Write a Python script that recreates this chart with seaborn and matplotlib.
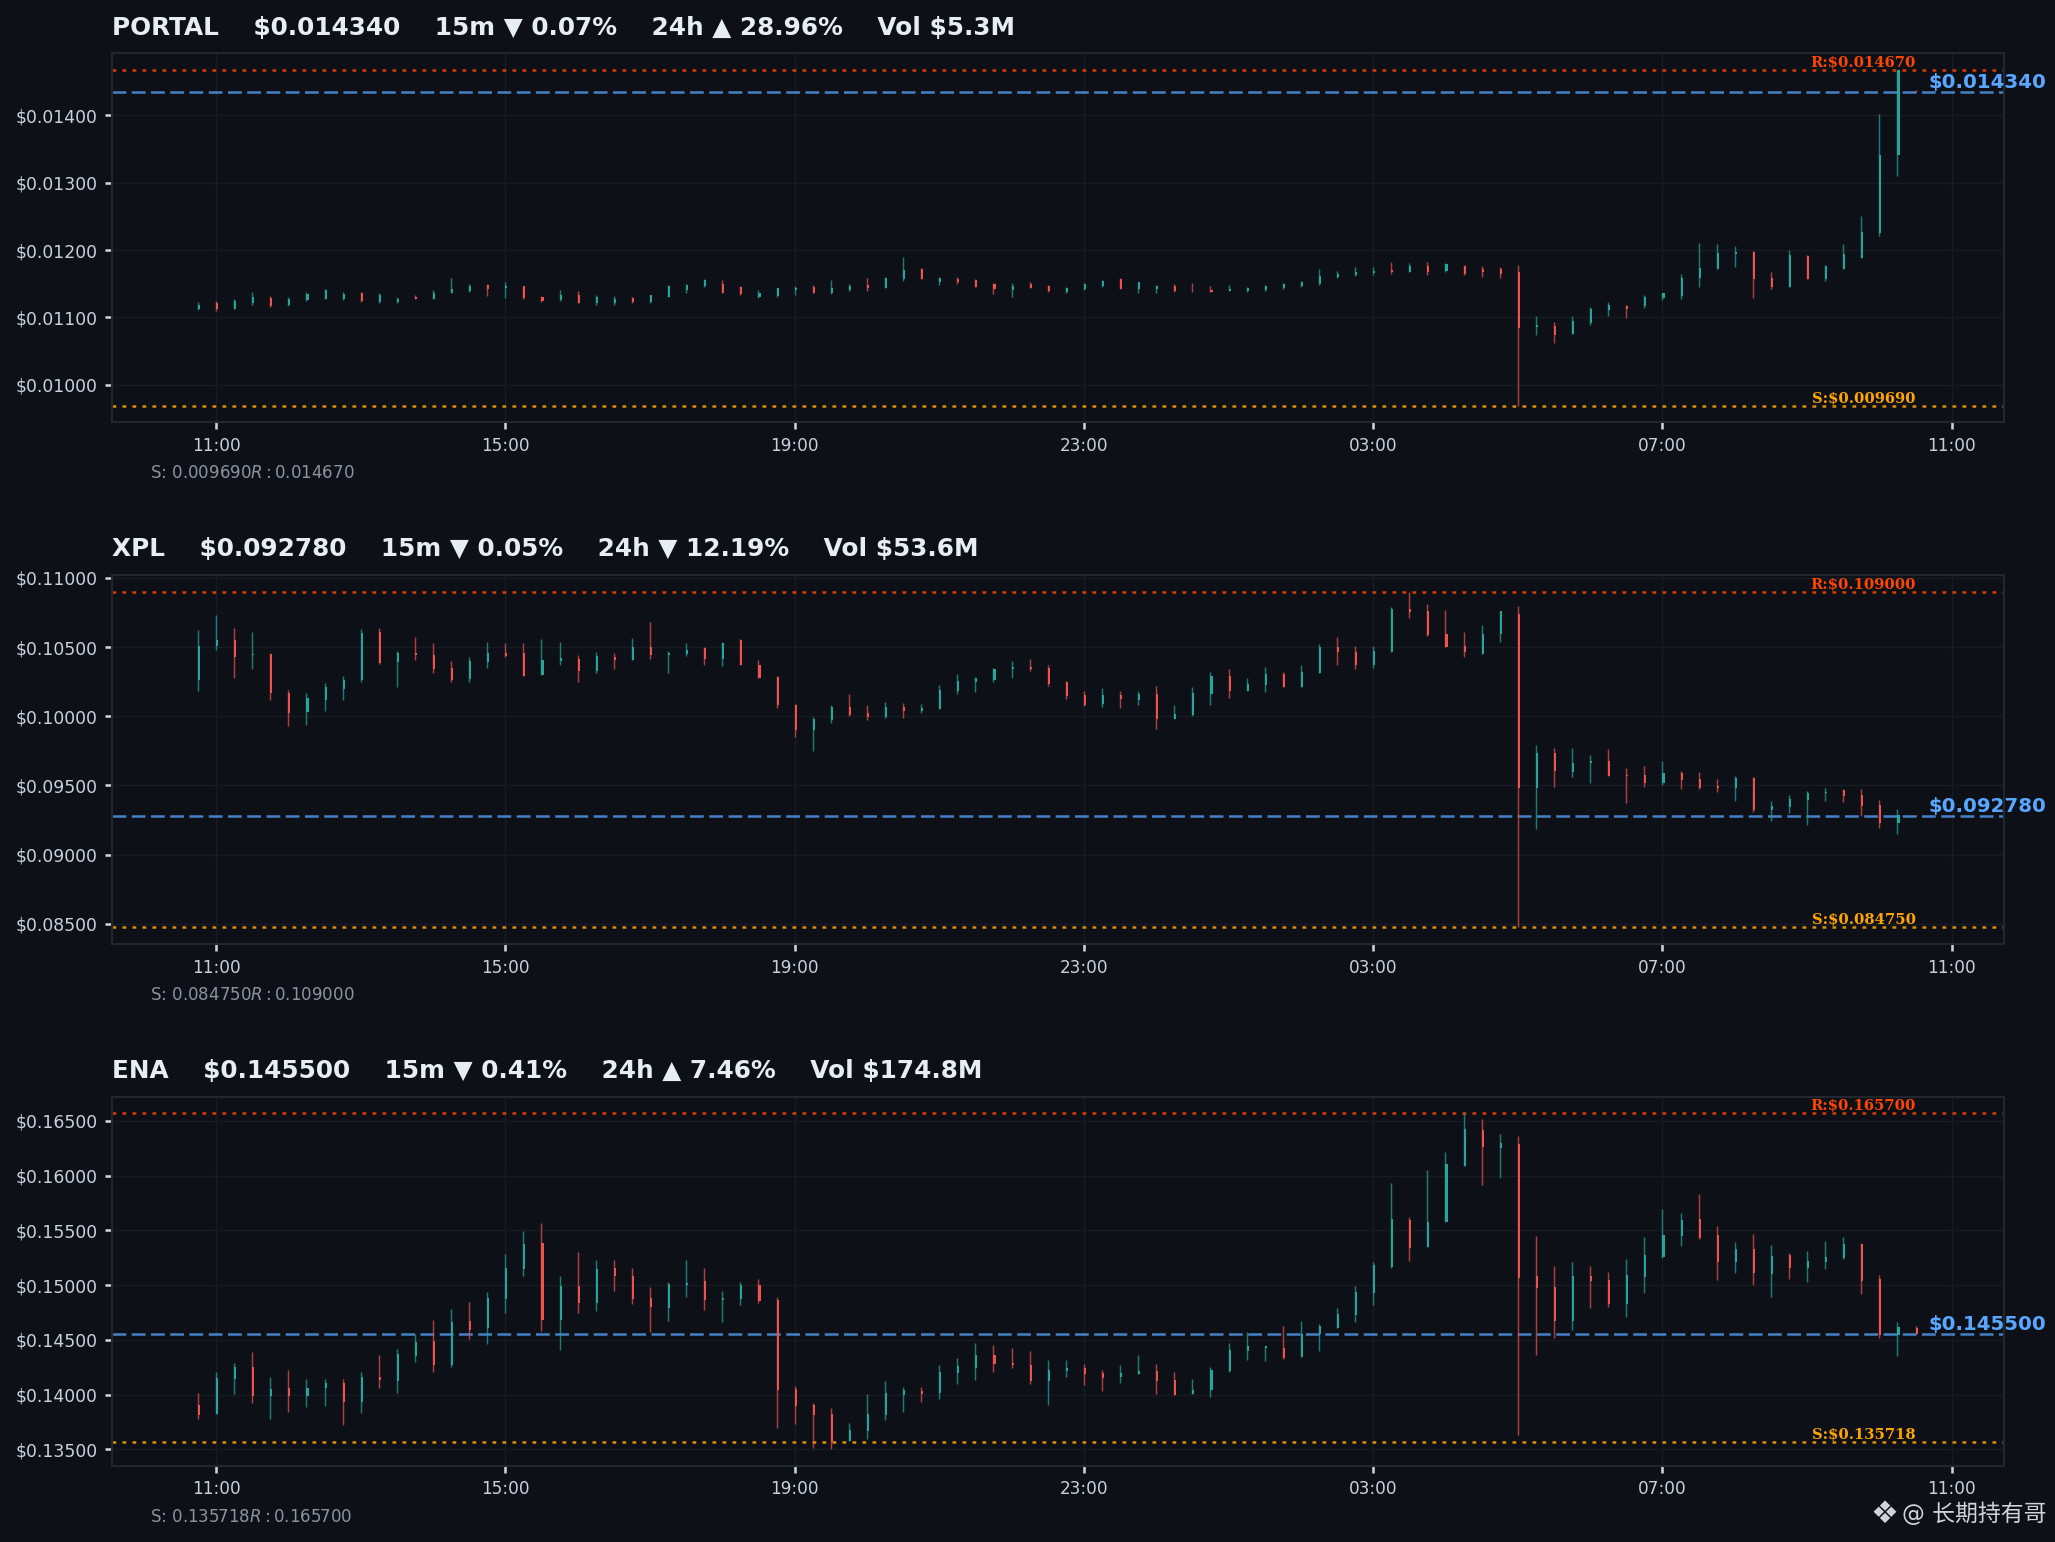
import matplotlib
matplotlib.use("Agg")
import matplotlib.pyplot as plt
import matplotlib.dates as mdates
from matplotlib.ticker import FuncFormatter
import numpy as np
import pandas as pd
import seaborn as sns

# =========================
# data: 15m candles, 96 bars
# =========================
times = pd.date_range("2025-01-14 10:45", periods=96, freq="15min")

portal_open = [
    0.01112, 0.01121, 0.01113, 0.01121, 0.01129, 0.01118, 0.01126, 0.01128, 0.01127, 0.01136,
    0.01123, 0.01123, 0.01131, 0.01128, 0.01137, 0.01139, 0.01148, 0.01143, 0.01146, 0.01131,
    0.01126, 0.01133, 0.01121, 0.01122, 0.01129, 0.01123, 0.01131, 0.01141, 0.01146, 0.01149,
    0.01145, 0.01131, 0.01132, 0.01141, 0.01145, 0.01136, 0.01141, 0.01148, 0.01144, 0.01157,
    0.01172, 0.01153, 0.01157, 0.01156, 0.01149, 0.01141, 0.01149, 0.01147, 0.01138, 0.01142,
    0.01146, 0.01157, 0.01142, 0.01142, 0.01147, 0.01141, 0.01141, 0.01139, 0.01139, 0.01141,
    0.01143, 0.01146, 0.01149, 0.01160, 0.01163, 0.01166, 0.01171, 0.01168, 0.01176, 0.01169,
    0.01177, 0.01172, 0.01172, 0.01168, 0.01086, 0.01087, 0.01076, 0.01092, 0.01111, 0.01117,
    0.01117, 0.01129, 0.01132, 0.01158, 0.01172, 0.01194, 0.01197, 0.01159, 0.01145, 0.01191,
    0.01157, 0.01172, 0.01188, 0.01226, 0.01341, 0.01435]
portal_high = [
    0.01123, 0.01125, 0.01127, 0.01138, 0.01132, 0.01130, 0.01138, 0.01142, 0.01138, 0.01138,
    0.01136, 0.01130, 0.01134, 0.01141, 0.01158, 0.01150, 0.01150, 0.01153, 0.01147, 0.01132,
    0.01141, 0.01139, 0.01133, 0.01132, 0.01130, 0.01134, 0.01148, 0.01150, 0.01157, 0.01155,
    0.01146, 0.01141, 0.01144, 0.01146, 0.01148, 0.01155, 0.01149, 0.01158, 0.01160, 0.01190,
    0.01173, 0.01160, 0.01160, 0.01157, 0.01151, 0.01151, 0.01152, 0.01148, 0.01145, 0.01151,
    0.01155, 0.01158, 0.01152, 0.01148, 0.01149, 0.01151, 0.01146, 0.01148, 0.01145, 0.01148,
    0.01151, 0.01154, 0.01172, 0.01169, 0.01175, 0.01175, 0.01182, 0.01181, 0.01182, 0.01181,
    0.01178, 0.01176, 0.01175, 0.01178, 0.01102, 0.01093, 0.01102, 0.01115, 0.01123, 0.01118,
    0.01134, 0.01137, 0.01164, 0.01210, 0.01209, 0.01206, 0.01198, 0.01167, 0.01200, 0.01192,
    0.01178, 0.01209, 0.01250, 0.01402, 0.01467, 0.01437]
portal_low = [
    0.01111, 0.01110, 0.01112, 0.01119, 0.01116, 0.01117, 0.01125, 0.01127, 0.01126, 0.01123,
    0.01121, 0.01121, 0.01127, 0.01127, 0.01136, 0.01138, 0.01132, 0.01129, 0.01128, 0.01123,
    0.01124, 0.01121, 0.01119, 0.01119, 0.01122, 0.01122, 0.01130, 0.01137, 0.01145, 0.01136,
    0.01133, 0.01129, 0.01131, 0.01134, 0.01136, 0.01135, 0.01139, 0.01139, 0.01143, 0.01154,
    0.01157, 0.01148, 0.01149, 0.01145, 0.01135, 0.01130, 0.01144, 0.01138, 0.01137, 0.01141,
    0.01145, 0.01142, 0.01137, 0.01136, 0.01138, 0.01138, 0.01138, 0.01139, 0.01138, 0.01139,
    0.01142, 0.01145, 0.01148, 0.01158, 0.01161, 0.01163, 0.01164, 0.01167, 0.01163, 0.01167,
    0.01163, 0.01160, 0.01158, 0.00969, 0.01074, 0.01062, 0.01075, 0.01089, 0.01102, 0.01099,
    0.01114, 0.01126, 0.01128, 0.01145, 0.01172, 0.01175, 0.01129, 0.01142, 0.01145, 0.01157,
    0.01154, 0.01172, 0.01188, 0.01221, 0.01310, 0.01434]
portal_close = [
    0.01119, 0.01112, 0.01124, 0.01131, 0.01117, 0.01127, 0.01135, 0.01141, 0.01135, 0.01124,
    0.01133, 0.01128, 0.01128, 0.01137, 0.01142, 0.01147, 0.01142, 0.01147, 0.01129, 0.01124,
    0.01133, 0.01122, 0.01131, 0.01128, 0.01123, 0.01133, 0.01146, 0.01148, 0.01156, 0.01137,
    0.01135, 0.01137, 0.01143, 0.01144, 0.01137, 0.01144, 0.01147, 0.01144, 0.01159, 0.01171,
    0.01157, 0.01159, 0.01152, 0.01145, 0.01142, 0.01147, 0.01144, 0.01139, 0.01144, 0.01150,
    0.01154, 0.01142, 0.01152, 0.01147, 0.01139, 0.01140, 0.01138, 0.01142, 0.01143, 0.01147,
    0.01150, 0.01153, 0.01161, 0.01164, 0.01168, 0.01169, 0.01167, 0.01177, 0.01167, 0.01179,
    0.01165, 0.01167, 0.01164, 0.01084, 0.01089, 0.01074, 0.01095, 0.01112, 0.01118, 0.01112,
    0.01131, 0.01136, 0.01159, 0.01173, 0.01195, 0.01197, 0.01157, 0.01145, 0.01192, 0.01157,
    0.01176, 0.01194, 0.01227, 0.01341, 0.01467, 0.01434]

xpl_open = [
    0.10260, 0.10507, 0.10550, 0.10440, 0.10450, 0.10170, 0.10030, 0.10120, 0.10200, 0.10260,
    0.10610, 0.10390, 0.10460, 0.10446, 0.10350, 0.10270, 0.10390, 0.10460, 0.10460, 0.10300,
    0.10400, 0.10417, 0.10330, 0.10425, 0.10410, 0.10504, 0.10446, 0.10453, 0.10490, 0.10417,
    0.10548, 0.10374, 0.10287, 0.10082, 0.09903, 0.09976, 0.10070, 0.10026, 0.09998, 0.10070,
    0.10041, 0.10055, 0.10186, 0.10251, 0.10265, 0.10338, 0.10359, 0.10352, 0.10251, 0.10157,
    0.10092, 0.10157, 0.10121, 0.10164, 0.09983, 0.10012, 0.10164, 0.10294, 0.10186, 0.10229,
    0.10309, 0.10215, 0.10316, 0.10497, 0.10468, 0.10367, 0.10468, 0.10772, 0.10758, 0.10598,
    0.10511, 0.10453, 0.10591, 0.10736, 0.09483, 0.09737, 0.09600, 0.09659, 0.09680, 0.09578,
    0.09578, 0.09520, 0.09592, 0.09549, 0.09498, 0.09483, 0.09556, 0.09324, 0.09346, 0.09396,
    0.09447, 0.09469, 0.09433, 0.09360, 0.09230, 0.092826]
xpl_high = [
    0.10620, 0.10730, 0.10635, 0.10606, 0.10460, 0.10190, 0.10170, 0.10240, 0.10294, 0.10634,
    0.10640, 0.10475, 0.10570, 0.10526, 0.10400, 0.10430, 0.10540, 0.10530, 0.10530, 0.10560,
    0.10540, 0.10446, 0.10468, 0.10460, 0.10562, 0.10678, 0.10475, 0.10533, 0.10504, 0.10540,
    0.10555, 0.10410, 0.10294, 0.10090, 0.09997, 0.10084, 0.10164, 0.10084, 0.10106, 0.10099,
    0.10092, 0.10229, 0.10302, 0.10287, 0.10352, 0.10396, 0.10417, 0.10374, 0.10258, 0.10186,
    0.10207, 0.10186, 0.10186, 0.10222, 0.10084, 0.10215, 0.10323, 0.10345, 0.10273, 0.10359,
    0.10323, 0.10367, 0.10519, 0.10570, 0.10511, 0.10511, 0.10786, 0.10900, 0.10808, 0.10765,
    0.10606, 0.10663, 0.10758, 0.10794, 0.09795, 0.09773, 0.09773, 0.09722, 0.09766, 0.09628,
    0.09643, 0.09679, 0.09607, 0.09600, 0.09549, 0.09570, 0.09563, 0.09390, 0.09433, 0.09462,
    0.09484, 0.09476, 0.09476, 0.09397, 0.09331, 0.09288]
xpl_low = [
    0.10180, 0.10480, 0.10280, 0.10340, 0.10120, 0.09930, 0.09940, 0.10040, 0.10120, 0.10250,
    0.10380, 0.10210, 0.10410, 0.10316, 0.10250, 0.10250, 0.10350, 0.10425, 0.10290, 0.10300,
    0.10374, 0.10250, 0.10310, 0.10345, 0.10410, 0.10417, 0.10310, 0.10439, 0.10374, 0.10360,
    0.10367, 0.10273, 0.10063, 0.09853, 0.09752, 0.09954, 0.10005, 0.09976, 0.09990, 0.09990,
    0.10026, 0.10055, 0.10164, 0.10178, 0.10251, 0.10273, 0.10330, 0.10222, 0.10128, 0.10077,
    0.10070, 0.10063, 0.10084, 0.09911, 0.09983, 0.10005, 0.10084, 0.10135, 0.10186, 0.10178,
    0.10215, 0.10215, 0.10316, 0.10367, 0.10345, 0.10352, 0.10461, 0.10707, 0.10577, 0.10504,
    0.10425, 0.10453, 0.10540, 0.08475, 0.09187, 0.09491, 0.09563, 0.09520, 0.09570, 0.09375,
    0.09491, 0.09505, 0.09476, 0.09476, 0.09454, 0.09389, 0.09310, 0.09245, 0.09302, 0.09216,
    0.09390, 0.09382, 0.09280, 0.09194, 0.09151, 0.09278]
xpl_close = [
    0.10510, 0.10550, 0.10430, 0.10450, 0.10170, 0.10020, 0.10130, 0.10210, 0.10260, 0.10600,
    0.10386, 0.10460, 0.10440, 0.10345, 0.10260, 0.10400, 0.10460, 0.10434, 0.10294, 0.10403,
    0.10420, 0.10330, 0.10432, 0.10410, 0.10504, 0.10446, 0.10460, 0.10480, 0.10417, 0.10526,
    0.10367, 0.10280, 0.10084, 0.09903, 0.09983, 0.10070, 0.10012, 0.09998, 0.10070, 0.10041,
    0.10063, 0.10193, 0.10258, 0.10273, 0.10345, 0.10358, 0.10345, 0.10236, 0.10150, 0.10084,
    0.10157, 0.10128, 0.10164, 0.09983, 0.10019, 0.10171, 0.10294, 0.10186, 0.10236, 0.10309,
    0.10215, 0.10323, 0.10497, 0.10461, 0.10367, 0.10475, 0.10772, 0.10750, 0.10584, 0.10504,
    0.10461, 0.10598, 0.10758, 0.09483, 0.09737, 0.09607, 0.09665, 0.09680, 0.09570, 0.09570,
    0.09520, 0.09592, 0.09542, 0.09483, 0.09483, 0.09556, 0.09324, 0.09353, 0.09404, 0.09447,
    0.09454, 0.09426, 0.09353, 0.09230, 0.09288, 0.09278]

ena_open = [
    0.13904, 0.13825, 0.14145, 0.14251, 0.13990, 0.14059, 0.13990, 0.14063, 0.14105, 0.13935,
    0.14160, 0.14127, 0.14352, 0.14489, 0.14270, 0.14672, 0.14608, 0.14873, 0.15147, 0.15385,
    0.14681, 0.14992, 0.14836, 0.15156, 0.15083, 0.14882, 0.14791, 0.15001, 0.15038, 0.14864,
    0.14873, 0.15001, 0.14864, 0.14050, 0.13904, 0.13825, 0.13578, 0.13670, 0.13816, 0.13998,
    0.14032, 0.14017, 0.14200, 0.14245, 0.14361, 0.14288, 0.14270, 0.14127, 0.14215, 0.14242,
    0.14200, 0.14163, 0.14190, 0.14215, 0.14133, 0.14008, 0.14044, 0.14215, 0.14401, 0.14428,
    0.14425, 0.14346, 0.14553, 0.14611, 0.14729, 0.14928, 0.15165, 0.15595, 0.15348, 0.15577,
    0.16089, 0.16418, 0.16253, 0.16290, 0.15083, 0.14983, 0.14672, 0.15083, 0.15047, 0.14827,
    0.15074, 0.15257, 0.15449, 0.15604, 0.15458, 0.15211, 0.15330, 0.15102, 0.15275, 0.15156,
    0.15211, 0.15248, 0.15376, 0.15056, 0.14544, 0.14610]
ena_high = [
    0.14014, 0.14206, 0.14288, 0.14388, 0.14160, 0.14224, 0.14142, 0.14142, 0.14142, 0.14206,
    0.14361, 0.14416, 0.14553, 0.14681, 0.14782, 0.14846, 0.14937, 0.15284, 0.15494, 0.15568,
    0.15083, 0.15303, 0.15229, 0.15229, 0.15156, 0.14983, 0.15028, 0.15229, 0.15156, 0.14946,
    0.15028, 0.15056, 0.14891, 0.14078, 0.13922, 0.13877, 0.13740, 0.14004, 0.14124, 0.14068,
    0.14068, 0.14270, 0.14334, 0.14471, 0.14453, 0.14425, 0.14398, 0.14315, 0.14315, 0.14279,
    0.14224, 0.14270, 0.14361, 0.14279, 0.14206, 0.14142, 0.14251, 0.14471, 0.14571, 0.14443,
    0.14626, 0.14672, 0.14644, 0.14791, 0.14992, 0.15211, 0.15933, 0.15623, 0.16052, 0.16217,
    0.16570, 0.16518, 0.16381, 0.16363, 0.15449, 0.15175, 0.15211, 0.15175, 0.15120, 0.15239,
    0.15440, 0.15696, 0.15659, 0.15833, 0.15540, 0.15394, 0.15467, 0.15367, 0.15293, 0.15312,
    0.15403, 0.15440, 0.15385, 0.15092, 0.14663, 0.14626]
ena_low = [
    0.13779, 0.13825, 0.14008, 0.13925, 0.13779, 0.13843, 0.13889, 0.13898, 0.13724, 0.13834,
    0.14063, 0.14017, 0.14297, 0.14206, 0.14251, 0.14507, 0.14462, 0.14745, 0.15083, 0.14581,
    0.14407, 0.14745, 0.14763, 0.14946, 0.14827, 0.14571, 0.14672, 0.14891, 0.14772, 0.14663,
    0.14818, 0.14836, 0.13697, 0.13733, 0.13514, 0.13505, 0.13578, 0.13596, 0.13770, 0.13843,
    0.13935, 0.13962, 0.14099, 0.14136, 0.14209, 0.14245, 0.14099, 0.13907, 0.14163, 0.14090,
    0.14035, 0.14108, 0.14190, 0.14008, 0.13999, 0.14008, 0.13981, 0.14209, 0.14318, 0.14309,
    0.14328, 0.14346, 0.14401, 0.14611, 0.14666, 0.14818, 0.15156, 0.15220, 0.15348, 0.15577,
    0.16089, 0.15915, 0.15979, 0.13633, 0.14361, 0.14516, 0.14590, 0.14791, 0.14800, 0.14708,
    0.14928, 0.15248, 0.15357, 0.15421, 0.15047, 0.15111, 0.15001, 0.14891, 0.15056, 0.15028,
    0.15147, 0.15239, 0.14919, 0.14516, 0.14352, 0.14550]
ena_close = [
    0.13816, 0.14151, 0.14251, 0.13990, 0.14051, 0.13990, 0.14059, 0.14105, 0.13935, 0.14160,
    0.14136, 0.14370, 0.14480, 0.14270, 0.14663, 0.14590, 0.14882, 0.15156, 0.15376, 0.14681,
    0.14992, 0.14836, 0.15147, 0.15083, 0.14873, 0.14800, 0.15010, 0.15020, 0.14864, 0.14882,
    0.15001, 0.14855, 0.14044, 0.13898, 0.13816, 0.13569, 0.13678, 0.13825, 0.14014, 0.14041,
    0.14008, 0.14206, 0.14261, 0.14361, 0.14282, 0.14270, 0.14127, 0.14224, 0.14242, 0.14190,
    0.14154, 0.14200, 0.14215, 0.14127, 0.13999, 0.14041, 0.14224, 0.14407, 0.14443, 0.14443,
    0.14337, 0.14553, 0.14626, 0.14736, 0.14937, 0.15184, 0.15604, 0.15339, 0.15577, 0.16107,
    0.16427, 0.16262, 0.16299, 0.15065, 0.14974, 0.14672, 0.15083, 0.15038, 0.14827, 0.15092,
    0.15275, 0.15458, 0.15595, 0.15431, 0.15211, 0.15330, 0.15111, 0.15266, 0.15156, 0.15220,
    0.15257, 0.15376, 0.15038, 0.14544, 0.14617, 0.14550]

symbols = ["PORTAL", "XPL", "ENA"]
last_price = [0.014340, 0.092780, 0.145500]
chg_15m = ["▼ 0.07%", "▼ 0.05%", "▼ 0.41%"]
chg_24h = ["▲ 28.96%", "▼ 12.19%", "▲ 7.46%"]
volumes = ["$5.3M", "$53.6M", "$174.8M"]
support = [0.009690, 0.084750, 0.135718]
resistance = [0.014670, 0.109000, 0.165700]

ohlc = [
    (portal_open, portal_high, portal_low, portal_close),
    (xpl_open, xpl_high, xpl_low, xpl_close),
    (ena_open, ena_high, ena_low, ena_close),
]

# =========================
# style
# =========================
BG = "#0d1117"
UP = "#26a69a"
DOWN = "#ef5350"
TXT = "#e6edf3"
TICK = "#c9d1d9"
EDGE = "#22272e"
BODY_W = 0.0012  # days

sns.set_theme(style="darkgrid", rc={
    "figure.facecolor": BG,
    "axes.facecolor": BG,
    "axes.edgecolor": EDGE,
    "axes.linewidth": 1.0,
    "grid.color": "#171c23",
    "grid.linewidth": 0.7,
    "xtick.bottom": True,
    "ytick.left": True,
    "xtick.color": TICK,
    "ytick.color": TICK,
    "xtick.labelsize": 8.1,
    "ytick.labelsize": 8.3,
    "xtick.major.size": 3.5,
    "ytick.major.size": 3.5,
})
plt.rcParams["font.family"] = ["DejaVu Sans", "Noto Sans CJK SC"]

fig, axes = plt.subplots(3, 1, figsize=(13.7, 10.28), dpi=150)
fig.subplots_adjust(left=0.0545, right=0.975, top=0.9654, bottom=0.0495, hspace=0.413)

t = mdates.date2num(times.to_pydatetime())

for i, ax in enumerate(axes):
    o, h, l, c = (np.asarray(a) for a in ohlc[i])
    up = c >= o
    cols = np.where(up, UP, DOWN)

    # wicks
    ax.vlines(t, l, h, colors=cols, linewidth=0.7, alpha=0.7, zorder=2)
    # bodies
    body = np.maximum(np.abs(c - o), (h.max() - l.min()) * 0.002)
    ax.bar(t, body, bottom=np.minimum(o, c), width=BODY_W, color=cols,
           align="edge", linewidth=0, zorder=3)

    S, R, P = support[i], resistance[i], last_price[i]
    ax.axhline(R, color="#ff4500", linewidth=1.2, linestyle=(0, (1.5, 2.5)), alpha=0.85, zorder=1)
    ax.axhline(S, color="#ffa500", linewidth=1.2, linestyle=(0, (1.5, 2.5)), alpha=0.85, zorder=1)
    ax.axhline(P, color="#58a6ff", linewidth=1.2, linestyle=(0, (5.5, 2.2)), alpha=0.75, zorder=1)

    ax.text(t[-1], R, f"R:${R:.6f}", color="#ff4500", fontsize=7.1, fontweight="bold",
            family="DejaVu Serif", ha="right", va="bottom")
    ax.text(t[-1], S, f"S:${S:.6f}", color="#ffa500", fontsize=7.1, fontweight="bold",
            family="DejaVu Serif", ha="right", va="bottom")
    ax.annotate(f"${P:.6f}", xy=(t[-1], P), xytext=(6, 0), textcoords="offset points",
                color="#58a6ff", fontsize=9.5, fontweight="bold", ha="left", va="bottom",
                annotation_clip=False)

    title = (f"{symbols[i]}    \\${P:.6f}    15m {chg_15m[i]}    "
             f"24h {chg_24h[i]}    Vol \\{volumes[i]}")
    ax.set_title(title, loc="left", color=TXT, fontsize=11.9, fontweight="bold", pad=9)

    # footer (two dollars in the string, rendered as in the source)
    ax.text(0.020, -0.138, f"S: ${S:.6f}  R: ${R:.6f}", transform=ax.transAxes,
            color="#8b949e", fontsize=8, ha="left", va="center")

    ax.xaxis.set_major_locator(mdates.HourLocator(byhour=[3, 7, 11, 15, 19, 23]))
    ax.xaxis.set_major_formatter(mdates.DateFormatter("%H:%M"))
    ax.yaxis.set_major_formatter(FuncFormatter(lambda v, _: f"${v:.5f}"))
    ax.grid(True)
    for sp in ax.spines.values():
        sp.set_color(EDGE)

# watermark: logo glyph placed just left of the text
wm = fig.text(0.996, 0.018, "@ 长期持有哥", color="#d0d4da", fontsize=11,
              ha="right", va="center", family=["DejaVu Sans", "Noto Sans CJK SC"])
fig.canvas.draw()
bb = wm.get_window_extent()
fig.text(bb.x0 / fig.bbox.width - 0.002, 0.018, "❖", color="#d0d4da", fontsize=15,
         ha="right", va="center")

fig.savefig("out.png", dpi=150, facecolor=BG)
